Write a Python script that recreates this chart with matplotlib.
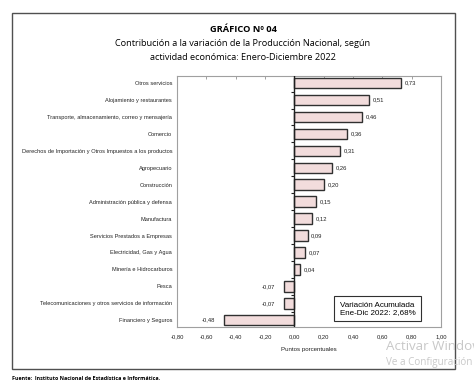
import matplotlib.pyplot as plt
import matplotlib.patches as mpatches

# Datos del gráfico (puntos porcentuales)
categorias = [
    'Otros servicios',
    'Alojamiento y restaurantes',
    'Transporte, almacenamiento, correo y mensajería',
    'Comercio',
    'Derechos de Importación y Otros Impuestos a los productos',
    'Agropecuario',
    'Construcción',
    'Administración pública y defensa',
    'Manufactura',
    'Servicios Prestados a Empresas',
    'Electricidad, Gas y Agua',
    'Minería e Hidrocarburos',
    'Pesca',
    'Telecomunicaciones y otros servicios de información',
    'Financiero y Seguros',
]
valores = [0.73, 0.51, 0.46, 0.36, 0.31, 0.26, 0.20, 0.15, 0.12, 0.09,
           0.07, 0.04, -0.07, -0.07, -0.48]
xticks = [-0.8, -0.6, -0.4, -0.2, 0.0, 0.2, 0.4, 0.6, 0.8, 1.0]


def coma(v):
    return f'{v:.2f}'.replace('.', ',')


W, H = 474, 390
fig = plt.figure(figsize=(W / 100, H / 100), dpi=100)
fig.patch.set_facecolor('white')

# Marco exterior
marco = mpatches.Rectangle((12 / W, 1 - 369 / H), 443 / W, 356 / H,
                           transform=fig.transFigure, fill=False,
                           edgecolor='#505050', linewidth=1.0)
fig.patches.append(marco)

xc = 243 / W
fig.text(xc, 1 - 29 / H, 'GRÁFICO Nº 04', ha='center', va='center',
         fontsize=6.7, fontweight='bold', family='Open Sans')
fig.text(xc, 1 - 44 / H,
         'Contribución a la variación de la Producción Nacional, según',
         ha='center', va='center', fontsize=6.6, family='Open Sans')
fig.text(xc, 1 - 58 / H, 'actividad económica: Enero-Diciembre 2022',
         ha='center', va='center', fontsize=6.6, family='Open Sans')

ax = fig.add_axes([177 / W, 1 - 327 / H, 264 / W, 251 / H])
pos = list(range(len(categorias)))
ax.barh(pos, valores, height=0.62, color='#f2dcdc', edgecolor='#303030',
        linewidth=1.0, zorder=3)
ax.set_xlim(-0.8, 1.0)
ax.set_ylim(len(categorias) - 0.6, -0.42)

for p, v in zip(pos, valores):
    if v >= 0:
        ax.text(v + 0.025, p, coma(v), ha='left', va='center',
                fontsize=4.2, family='Liberation Sans', color='#222222')
    else:
        ax.text(v - 0.06, p, coma(v), ha='right', va='center',
                fontsize=4.2, family='Liberation Sans', color='#222222')

# Eje en cero con marcas entre categorías
ax.axvline(0, color='#202020', linewidth=1.0, zorder=4)
ax.plot([0] * (len(categorias) - 1), [p + 0.5 for p in pos[:-1]],
        linestyle='none', marker=0, markersize=2.5, color='#202020',
        markeredgewidth=0.8, zorder=4, clip_on=False)

ax.set_yticks(pos)
ax.set_yticklabels(categorias, fontsize=4.05, family='Liberation Sans',
                   color='#222222')
ax.tick_params(axis='y', length=0, pad=3.5)
ax.set_xticks(xticks)
ax.set_xticklabels([coma(x) for x in xticks], fontsize=4.2,
                   family='Liberation Sans', color='#222222')
ax.tick_params(axis='x', direction='in', top=True, bottom=False,
               labelbottom=True, length=2, color='#909090', width=0.6,
               pad=5)
for s in ax.spines.values():
    s.set_color('#a0a0a0')
    s.set_linewidth(0.8)

ax.set_xlabel('Puntos porcentuales', fontsize=4.4, family='Liberation Sans',
              color='#222222', labelpad=6)

ax.text(0.759, 0.072, 'Variación Acumulada\nEne-Dic 2022: 2,68%',
        transform=ax.transAxes, ha='center', va='center', fontsize=5.8,
        family='Liberation Sans', linespacing=0.95, zorder=5,
        bbox=dict(boxstyle='square,pad=0.7', facecolor='white',
                  edgecolor='#303030', linewidth=0.8))

fig.text(12 / W, 1 - 378 / H,
         'Fuente:  Instituto Nacional de Estadística e Informática.',
         ha='left', va='center', fontsize=3.9, fontweight='bold',
         family='Open Sans')

# Marca de agua de Windows presente en la captura
fig.text(386 / W, 1 - 347 / H, 'Activar Windows', ha='left', va='center',
         fontsize=9.6, color='#c8c8c8', family='Open Sans')
fig.text(386 / W, 1 - 363 / H, 'Ve a Configuración', ha='left',
         va='center', fontsize=7.1, color='#c8c8c8', family='Open Sans')

fig.savefig('out.png', dpi=100, facecolor='white')
